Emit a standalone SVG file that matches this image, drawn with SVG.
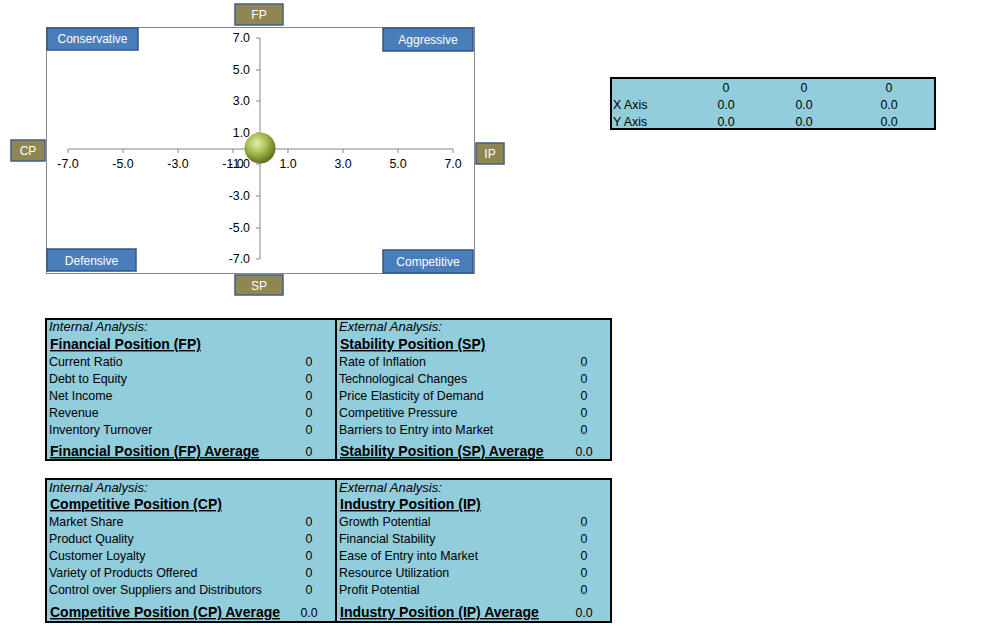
<svg xmlns="http://www.w3.org/2000/svg" width="982" height="635" viewBox="0 0 982 635">
<style>
text{font-family:"Liberation Sans",Arial,sans-serif;font-size:12.4px;fill:#000}
.q{fill:#4A7EBB;stroke:#2F5689;stroke-width:1.5}
.o{fill:#8F8652;stroke:#3F5F86;stroke-width:1.5}
.ql{fill:#fff;font-size:12px;text-anchor:middle}
.ax{stroke:#868686;stroke-width:1;fill:none}
.tl{font-size:10.5px;fill:#333}
.tb{fill:#92CDDC;stroke:#000;stroke-width:2}
.it{font-style:italic;font-size:13px}
.h{font-weight:bold;font-size:14px;text-decoration:underline}
.v{text-anchor:middle}
</style>
<defs>
<radialGradient id="ball" cx="0.4" cy="0.35" r="0.65">
<stop offset="0" stop-color="#E4F0B0"/>
<stop offset="0.5" stop-color="#A5BC4E"/>
<stop offset="1" stop-color="#5E7222"/>
</radialGradient>
</defs>
<rect x="0" y="0" width="982" height="635" fill="#fff"/>
<g id="chart">
<rect x="46.5" y="27.5" width="428" height="246" fill="#fff" stroke="#868686"/>
<g id="axes">
<line class="ax" x1="68" y1="149" x2="453" y2="149"/>
<line class="ax" x1="260" y1="38" x2="260" y2="259"/>
<path class="ax" d="M68 149v4M123 149v4M178 149v4M233 149v4M288 149v4M343 149v4M398 149v4M453 149v4M260 38h-4M260 70h-4M260 101h-4M260 133h-4M260 164h-4M260 196h-4M260 228h-4M260 259h-4"/>
<g class="tl" text-anchor="middle">
<text x="68" y="168">-7.0</text><text x="123" y="168">-5.0</text><text x="178" y="168">-3.0</text><text x="233" y="168">-1.0</text>
<text x="288" y="168">1.0</text><text x="343" y="168">3.0</text><text x="398" y="168">5.0</text><text x="453" y="168">7.0</text>
</g>
<g class="tl" text-anchor="end">
<text x="250" y="42">7.0</text><text x="250" y="74">5.0</text><text x="250" y="105">3.0</text><text x="250" y="137">1.0</text>
<text x="250" y="168">-1.0</text><text x="250" y="200">-3.0</text><text x="250" y="232">-5.0</text><text x="250" y="263">-7.0</text>
</g>
</g>
<circle cx="260" cy="148" r="15.5" fill="url(#ball)"/>
</g>
<g id="conservative"><rect class="q" x="47" y="28" width="91" height="22"/><text class="ql" x="92.5" y="43">Conservative</text></g>
<g id="aggressive"><rect class="q" x="383" y="28" width="90" height="23"/><text class="ql" x="428" y="44">Aggressive</text></g>
<g id="defensive"><rect class="q" x="47" y="249" width="89" height="22"/><text class="ql" x="91.5" y="265">Defensive</text></g>
<g id="competitive"><rect class="q" x="383" y="250" width="90" height="23"/><text class="ql" x="428" y="266">Competitive</text></g>
<g id="fp"><rect class="o" x="235" y="4" width="48" height="21"/><text class="ql" x="259" y="19" font-size="11">FP</text></g>
<g id="sp"><rect class="o" x="235" y="275" width="48" height="20"/><text class="ql" x="259" y="290" font-size="11">SP</text></g>
<g id="cp"><rect class="o" x="11" y="140" width="34" height="21"/><text class="ql" x="28" y="155" font-size="11">CP</text></g>
<g id="ip"><rect class="o" x="476" y="143" width="28" height="21"/><text class="ql" x="490" y="158" font-size="11">IP</text></g>

<g id="axis-table">
<rect class="tb" x="611" y="78" width="324" height="51"/>
<text class="v" x="726" y="92">0</text><text class="v" x="804" y="92">0</text><text class="v" x="889" y="92">0</text>
<text x="613" y="109">X Axis</text><text class="v" x="726" y="109">0.0</text><text class="v" x="804" y="109">0.0</text><text class="v" x="889" y="109">0.0</text>
<text x="613" y="126">Y Axis</text><text class="v" x="726" y="126">0.0</text><text class="v" x="804" y="126">0.0</text><text class="v" x="889" y="126">0.0</text>
</g>

<g id="table1">
<rect class="tb" x="46" y="319" width="565" height="141"/>
<line x1="336" y1="319" x2="336" y2="460" stroke="#000" stroke-width="2"/>
<text class="it" x="49" y="331">Internal Analysis:</text>
<text class="h" x="50" y="349">Financial Position (FP)</text>
<text x="49" y="366">Current Ratio</text><text class="v" x="309" y="366">0</text>
<text x="49" y="383">Debt to Equity</text><text class="v" x="309" y="383">0</text>
<text x="49" y="400">Net Income</text><text class="v" x="309" y="400">0</text>
<text x="49" y="417">Revenue</text><text class="v" x="309" y="417">0</text>
<text x="49" y="434">Inventory Turnover</text><text class="v" x="309" y="434">0</text>
<text class="h" x="50" y="456">Financial Position (FP) Average </text><text class="v" x="309" y="456">0</text>
<text class="it" x="339" y="331">External Analysis:</text>
<text class="h" x="340" y="349">Stability Position (SP)</text>
<text x="339" y="366">Rate of Inflation</text><text class="v" x="584" y="366">0</text>
<text x="339" y="383">Technological Changes</text><text class="v" x="584" y="383">0</text>
<text x="339" y="400">Price Elasticity of Demand</text><text class="v" x="584" y="400">0</text>
<text x="339" y="417">Competitive Pressure</text><text class="v" x="584" y="417">0</text>
<text x="339" y="434">Barriers to Entry into Market</text><text class="v" x="584" y="434">0</text>
<text class="h" x="340" y="456">Stability Position (SP) Average</text><text class="v" x="584" y="456" font-size="11.5">0.0</text>
</g>

<g id="table2">
<rect class="tb" x="46" y="479" width="565" height="143"/>
<line x1="336" y1="479" x2="336" y2="622" stroke="#000" stroke-width="2"/>
<text class="it" x="49" y="492">Internal Analysis:</text>
<text class="h" x="50" y="509">Competitive Position (CP)</text>
<text x="49" y="526">Market Share</text><text class="v" x="309" y="526">0</text>
<text x="49" y="543">Product Quality</text><text class="v" x="309" y="543">0</text>
<text x="49" y="560">Customer Loyalty</text><text class="v" x="309" y="560">0</text>
<text x="49" y="577">Variety of Products Offered</text><text class="v" x="309" y="577">0</text>
<text x="49" y="594">Control over Suppliers and Distributors</text><text class="v" x="309" y="594">0</text>
<text class="h" x="50" y="617">Competitive Position (CP) Average</text><text class="v" x="309" y="617" font-size="11.5">0.0</text>
<text class="it" x="339" y="492">External Analysis:</text>
<text class="h" x="340" y="509">Industry Position (IP)</text>
<text x="339" y="526">Growth Potential</text><text class="v" x="584" y="526">0</text>
<text x="339" y="543">Financial Stability</text><text class="v" x="584" y="543">0</text>
<text x="339" y="560">Ease of Entry into Market</text><text class="v" x="584" y="560">0</text>
<text x="339" y="577">Resource Utilization</text><text class="v" x="584" y="577">0</text>
<text x="339" y="594">Profit Potential</text><text class="v" x="584" y="594">0</text>
<text class="h" x="340" y="617">Industry Position (IP) Average</text><text class="v" x="584" y="617" font-size="11.5">0.0</text>
</g>
</svg>
